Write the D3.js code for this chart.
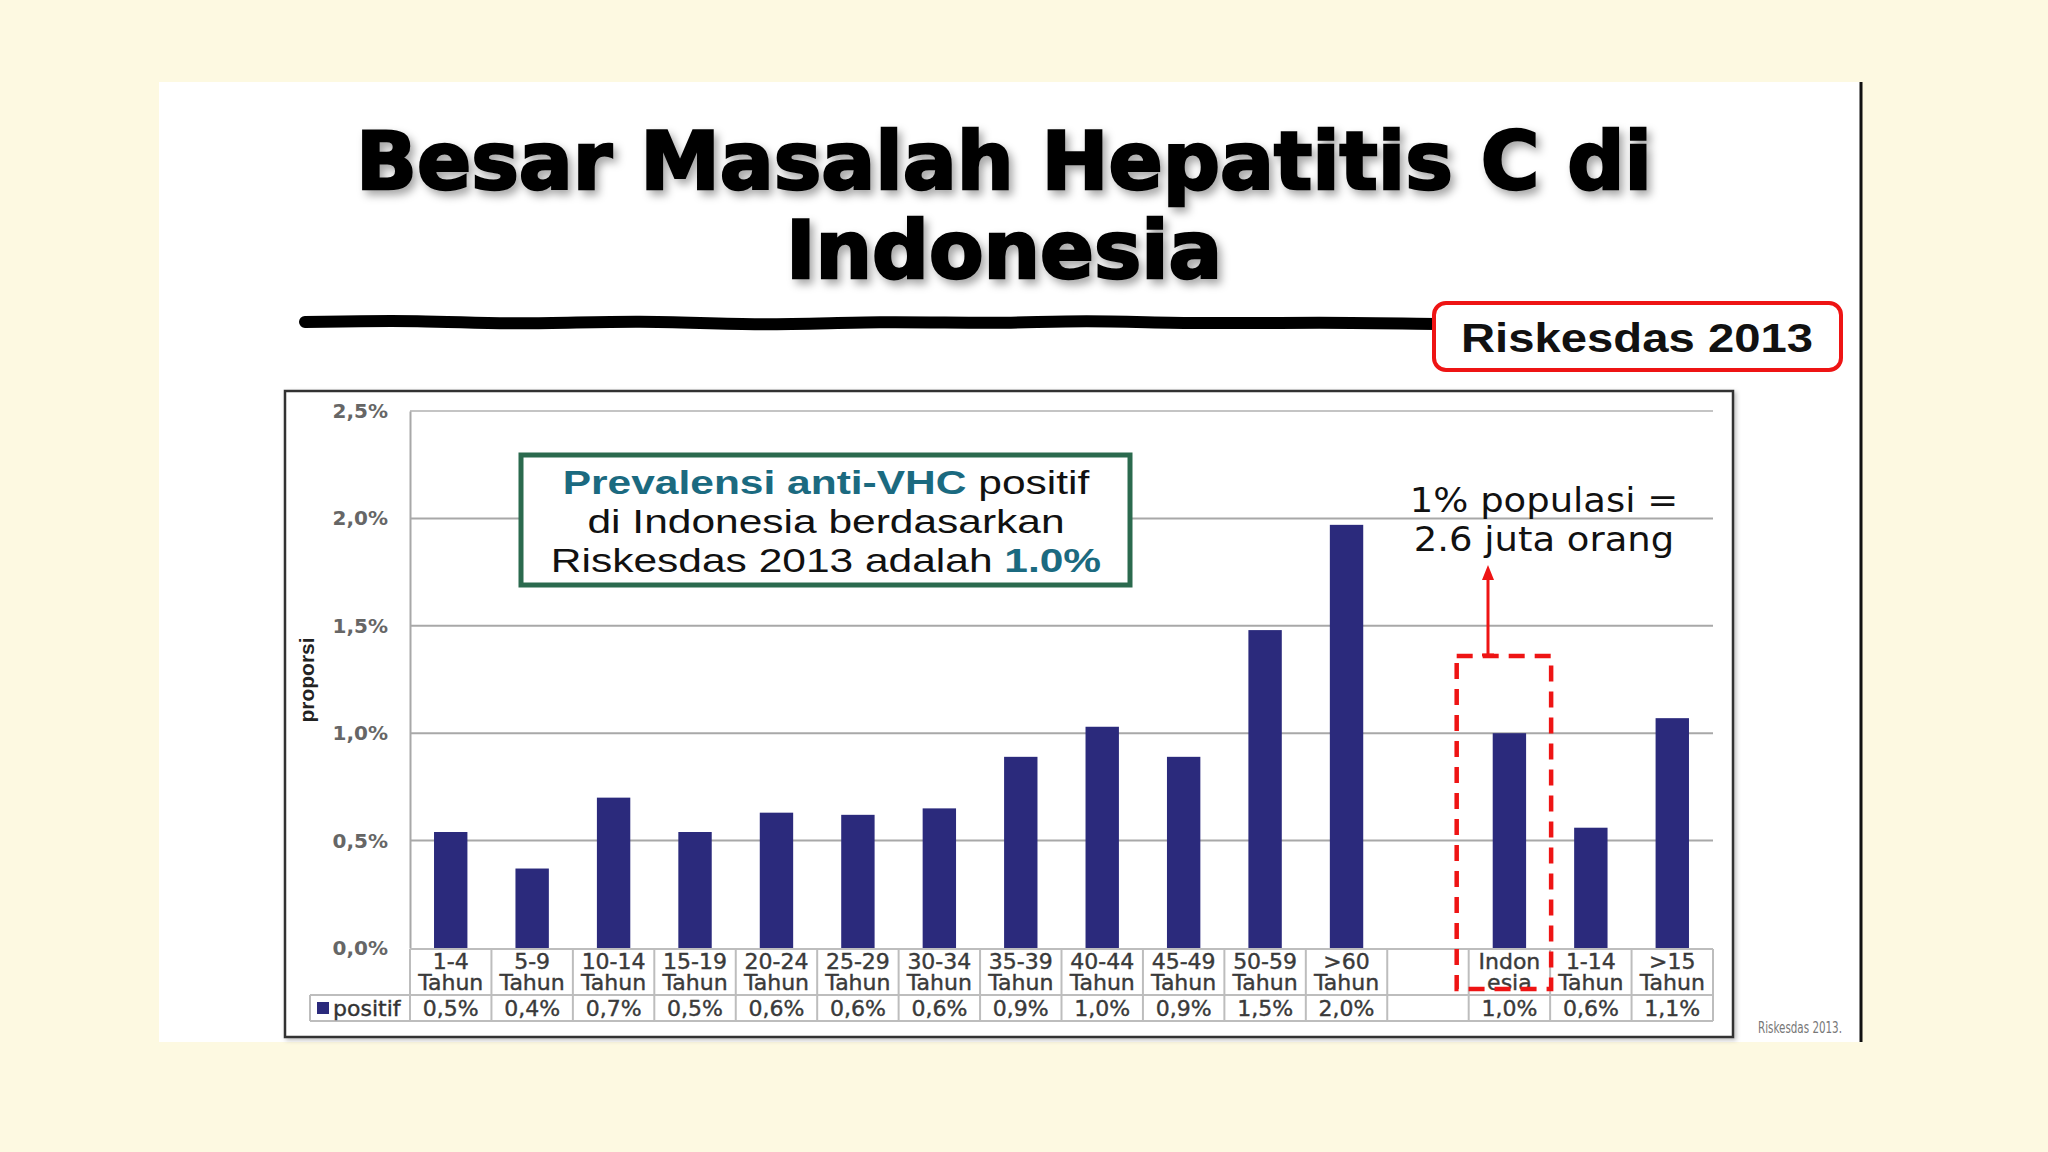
<!DOCTYPE html>
<html>
<head>
<meta charset="utf-8">
<script src="https://cdn.jsdelivr.net/npm/d3@7"></script>
<style>
  body { margin: 0; background: #fdf9e1; }
  svg { display: block; }
</style>
</head>
<body>
<div id="chart"></div>
<script>
// data
const catLine1 = ["1-4", "5-9", "10-14", "15-19", "20-24", "25-29", "30-34", "35-39", "40-44", "45-49", "50-59", ">60", "", "Indon", "1-14", ">15"];
const catLine2 = ["Tahun", "Tahun", "Tahun", "Tahun", "Tahun", "Tahun", "Tahun", "Tahun", "Tahun", "Tahun", "Tahun", "Tahun", "", "esia", "Tahun", "Tahun"];
const values = [0.54, 0.37, 0.70, 0.54, 0.63, 0.62, 0.65, 0.89, 1.03, 0.89, 1.48, 1.97, null, 1.0, 0.56, 1.07];
const tableLabels = ["0,5%", "0,4%", "0,7%", "0,5%", "0,6%", "0,6%", "0,6%", "0,9%", "1,0%", "0,9%", "1,5%", "2,0%", "", "1,0%", "0,6%", "1,1%"];
const yTicks = [0, 0.5, 1.0, 1.5, 2.0, 2.5];
const yTickLabels = ["0,0%", "0,5%", "1,0%", "1,5%", "2,0%", "2,5%"];

const W = 2048, H = 1152;
const barColor = "#2b2a7c";
const red = "#ee1414";

const svg = d3.select("#chart").append("svg")
    .attr("width", W).attr("height", H);

const defs = svg.append("defs");
const shadow = defs.append("filter").attr("id", "tshadow")
    .attr("x", "-10%").attr("y", "-30%").attr("width", "120%").attr("height", "160%");
shadow.append("feDropShadow").attr("dx", 4).attr("dy", 5).attr("stdDeviation", 4)
    .attr("flood-color", "#000").attr("flood-opacity", 0.35);
const fshadow = defs.append("filter").attr("id", "fshadow")
    .attr("x", "-5%").attr("y", "-5%").attr("width", "110%").attr("height", "110%");
fshadow.append("feDropShadow").attr("dx", 2).attr("dy", 2).attr("stdDeviation", 2)
    .attr("flood-color", "#000").attr("flood-opacity", 0.25);

// background and slide
svg.append("rect").attr("width", W).attr("height", H).attr("fill", "#fdf9e1");
svg.append("rect").attr("x", 159).attr("y", 82).attr("width", 1702).attr("height", 960).attr("fill", "#fff");
svg.append("line").attr("x1", 1861).attr("x2", 1861).attr("y1", 82).attr("y2", 1042)
    .attr("stroke", "#111").attr("stroke-width", 3);

// title
const title = svg.append("g").attr("filter", "url(#tshadow)");
title.append("text").attr("x", 1004).attr("y", 189)
    .attr("text-anchor", "middle")
    .attr("textLength", 1296).attr("lengthAdjust", "spacingAndGlyphs")
    .style("font-family", "DejaVu Sans").style("font-weight", "bold").style("font-size", "80px")
    .attr("fill", "#000").attr("stroke", "#000").attr("stroke-width", 2.5)
    .text("Besar Masalah Hepatitis C di");
title.append("text").attr("x", 1004).attr("y", 278)
    .attr("text-anchor", "middle")
    .attr("textLength", 436).attr("lengthAdjust", "spacingAndGlyphs")
    .style("font-family", "DejaVu Sans").style("font-weight", "bold").style("font-size", "80px")
    .attr("fill", "#000").attr("stroke", "#000").attr("stroke-width", 2.5)
    .text("Indonesia");

// hand drawn rule under the title
const rulePts = [[305, 322], [420, 320], [520, 325], [640, 320], [760, 326], [880, 321], [1000, 324], [1080, 320], [1200, 324], [1320, 322], [1436, 324]];
svg.append("path")
    .attr("d", d3.line().curve(d3.curveBasis)(rulePts))
    .attr("fill", "none").attr("stroke", "#000").attr("stroke-width", 12).attr("stroke-linecap", "round");

// Riskesdas 2013 badge
svg.append("rect").attr("x", 1434).attr("y", 303).attr("width", 407).attr("height", 67)
    .attr("rx", 12).attr("fill", "#fff").attr("stroke", red).attr("stroke-width", 4);
svg.append("text").attr("x", 1637).attr("y", 352).attr("text-anchor", "middle")
    .attr("textLength", 352).attr("lengthAdjust", "spacingAndGlyphs")
    .style("font-family", "Liberation Sans").style("font-weight", "bold").style("font-size", "40px")
    .attr("fill", "#111").text("Riskesdas 2013");

// chart frame
svg.append("rect").attr("x", 285).attr("y", 391).attr("width", 1448).attr("height", 646)
    .attr("fill", "#fff").attr("stroke", "#333").attr("stroke-width", 2.5).attr("filter", "url(#fshadow)");

// scales
const plotL = 410, plotR = 1713, plotT = 411, plotB = 948;
const x = d3.scaleBand().domain(d3.range(values.length)).range([plotL, plotR]).padding(0);
const y = d3.scaleLinear().domain([0, 2.5]).range([plotB, plotT]);
const barW = x.bandwidth() * 0.41;

// gridlines
svg.append("g").selectAll("line").data(yTicks.slice(1)).enter().append("line")
    .attr("x1", plotL).attr("x2", plotR)
    .attr("y1", d => y(d)).attr("y2", d => y(d))
    .attr("stroke", d => d === 2.5 ? "#c4c4c4" : "#a8a8a8").attr("stroke-width", 2);

// y axis
const yAxis = svg.append("g").attr("transform", `translate(${plotL},0)`)
    .call(d3.axisLeft(y).tickValues(yTicks).tickFormat((d, i) => yTickLabels[i]).tickSize(0).tickPadding(22));
yAxis.select(".domain").attr("stroke", "#a8a8a8").attr("stroke-width", 2);
yAxis.selectAll("text")
    .style("font-family", "DejaVu Sans").style("font-weight", "bold").style("font-size", "20px")
    .attr("fill", "#666");

svg.append("text")
    .attr("transform", "translate(314,680) rotate(-90)")
    .attr("text-anchor", "middle")
    .style("font-family", "Liberation Sans").style("font-weight", "bold").style("font-size", "21px")
    .attr("fill", "#222").text("proporsi");

// bars
svg.append("g").selectAll("rect").data(values.map((v, i) => ({ v, i })).filter(d => d.v !== null))
    .enter().append("rect")
    .attr("x", d => x(d.i) + (x.bandwidth() - barW) / 2)
    .attr("y", d => y(d.v))
    .attr("width", barW)
    .attr("height", d => plotB - y(d.v))
    .attr("fill", barColor);

// data table under the plot
const rowTop = 949, rowMid = 995, rowBot = 1021, legendL = 310;
const tbl = svg.append("g");
const gridC = "#bdbdbd";
tbl.append("line").attr("x1", plotL).attr("x2", plotR).attr("y1", rowTop).attr("y2", rowTop).attr("stroke", gridC).attr("stroke-width", 2);
tbl.append("line").attr("x1", legendL).attr("x2", plotR).attr("y1", rowMid).attr("y2", rowMid).attr("stroke", gridC).attr("stroke-width", 2);
tbl.append("line").attr("x1", legendL).attr("x2", plotR).attr("y1", rowBot).attr("y2", rowBot).attr("stroke", gridC).attr("stroke-width", 2);
tbl.append("line").attr("x1", legendL).attr("x2", legendL).attr("y1", rowMid).attr("y2", rowBot).attr("stroke", gridC).attr("stroke-width", 2);
tbl.selectAll(".vcol").data(d3.range(values.length + 1)).enter().append("line")
    .attr("x1", i => i < values.length ? x(i) : plotR).attr("x2", i => i < values.length ? x(i) : plotR)
    .attr("y1", rowTop).attr("y2", rowBot)
    .attr("stroke", gridC).attr("stroke-width", 2);

const tFont = sel => sel.style("font-family", "DejaVu Sans").style("font-size", "22px")
    .attr("fill", "#3a3a3a").attr("stroke", "#3a3a3a").attr("stroke-width", 0.4).attr("text-anchor", "middle");
tbl.selectAll(".c1").data(catLine1).enter().append("text")
    .attr("x", (d, i) => x(i) + x.bandwidth() / 2).attr("y", 969).call(tFont).text(d => d);
tbl.selectAll(".c2").data(catLine2).enter().append("text")
    .attr("x", (d, i) => x(i) + x.bandwidth() / 2).attr("y", 990).call(tFont).text(d => d);
tbl.selectAll(".v").data(tableLabels).enter().append("text")
    .attr("x", (d, i) => x(i) + x.bandwidth() / 2).attr("y", 1016).call(tFont).text(d => d);

tbl.append("rect").attr("x", 317).attr("y", 1002).attr("width", 12).attr("height", 12).attr("fill", barColor);
tbl.append("text").attr("x", 333).attr("y", 1016)
    .style("font-family", "DejaVu Sans").style("font-size", "22px")
    .attr("fill", "#333").attr("stroke", "#333").attr("stroke-width", 0.4).text("positif");

// green prevalence box
svg.append("rect").attr("x", 521).attr("y", 455).attr("width", 609).attr("height", 130)
    .attr("fill", "#fff").attr("stroke", "#2b6a4e").attr("stroke-width", 5);
const teal = "#1b6a80";
const boxLines = [
    [{ t: "Prevalensi anti-VHC", b: true }, { t: " positif", b: false }],
    [{ t: "di Indonesia berdasarkan", b: false }],
    [{ t: "Riskesdas 2013 adalah ", b: false }, { t: "1.0%", b: true }]
];
const boxY = [494, 533, 572];
boxLines.forEach((parts, li) => {
    const t = svg.append("text")
        .attr("transform", `translate(826,${boxY[li]}) scale(1.25,1)`)
        .attr("text-anchor", "middle")
        .style("font-family", "Liberation Sans").style("font-size", "34px");
    parts.forEach(p => t.append("tspan")
        .style("font-weight", p.b ? "bold" : "normal")
        .attr("fill", p.b ? teal : "#111")
        .text(p.t));
});

// annotation: 1% populasi
const annLines = ["1% populasi =", "2.6 juta orang"];
const annY = [512, 551];
annLines.forEach((s, i) => {
    svg.append("text")
        .attr("transform", `translate(1544,${annY[i]}) scale(1.12,1)`)
        .attr("text-anchor", "middle")
        .style("font-family", "DejaVu Sans").style("font-size", "33px")
        .attr("fill", "#111").text(s);
});

// red dashed highlight around Indonesia + arrow
const idx = catLine1.indexOf("Indon");
const hx0 = x(idx) - 12, hx1 = x(idx) + x.bandwidth() + 1;
svg.append("rect").attr("x", hx0).attr("y", 656).attr("width", hx1 - hx0).attr("height", 333)
    .attr("fill", "none").attr("stroke", red).attr("stroke-width", 4.5).attr("stroke-dasharray", "16 10");
const ax = 1488;
svg.append("line").attr("x1", ax).attr("x2", ax).attr("y1", 655).attr("y2", 578)
    .attr("stroke", red).attr("stroke-width", 3);
svg.append("line").attr("x1", ax - 6).attr("x2", ax + 6).attr("y1", 655).attr("y2", 655)
    .attr("stroke", red).attr("stroke-width", 3);
svg.append("path").attr("d", `M${ax - 6},${580} L${ax},${565} L${ax + 6},${580} Z`).attr("fill", red);

// source note
svg.append("text").attr("x", 1758).attr("y", 1033)
    .attr("textLength", 84).attr("lengthAdjust", "spacingAndGlyphs")
    .style("font-family", "DejaVu Sans Condensed, DejaVu Sans").style("font-size", "15px")
    .attr("fill", "#777").text("Riskesdas 2013.");
</script>
</body>
</html>
